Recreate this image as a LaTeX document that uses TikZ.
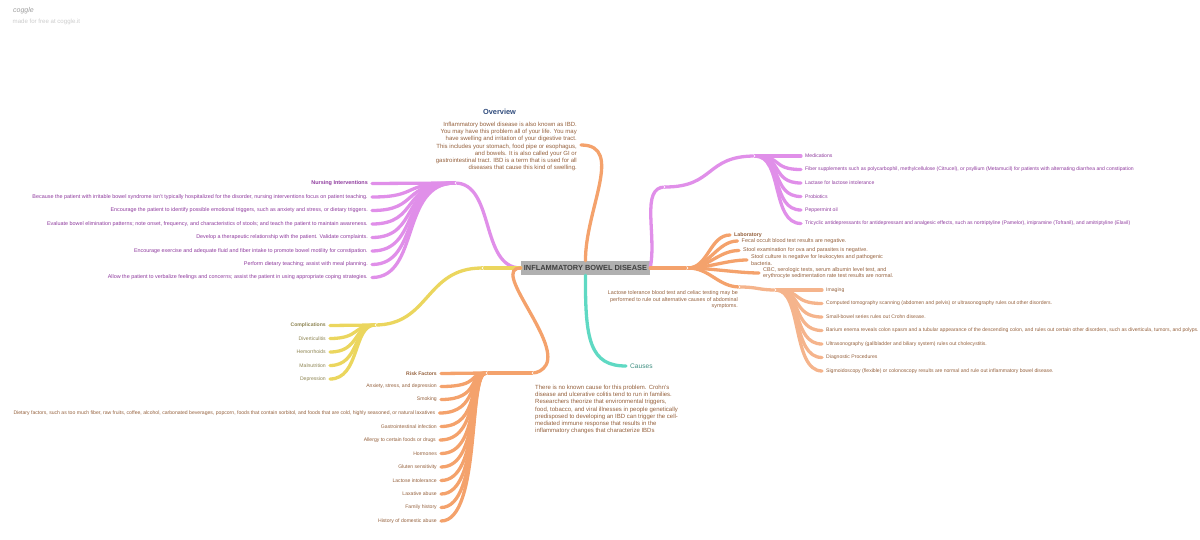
\documentclass[tikz,border=0pt]{standalone}
\usepackage{fontspec}
\setmainfont{Liberation Sans}
\definecolor{purpline}{HTML}{E08FE9}
\definecolor{purptext}{HTML}{8E3A9D}
\definecolor{oranline}{HTML}{F4A26C}
\definecolor{oranpale}{HTML}{F5B48C}
\definecolor{brown}{HTML}{94603C}
\definecolor{yellline}{HTML}{EBD65E}
\definecolor{yelltext}{HTML}{8C8350}
\definecolor{tealline}{HTML}{5FD9C3}
\definecolor{overblue}{HTML}{2F4B7C}
\definecolor{causetxt}{HTML}{3E8E80}
\tikzset{
  link/.style={line width=3.3pt,line cap=round},
  txt/.style={font=\fontsize{5.1}{6.5}\selectfont,inner xsep=4pt,inner ysep=0pt},
  lleaf/.style={txt,anchor=east,align=right},
  rleaf/.style={txt,anchor=west,align=left},
  para/.style={font=\fontsize{6}{7.2}\selectfont,inner sep=0pt,text=brown},
  chev/.style={white,line width=.5pt},
}
\begin{document}
\begin{tikzpicture}[x=1pt,y=-1pt]
\useasboundingbox (0,0) rectangle (1200,539);
% logo
\node[anchor=west,inner sep=0pt,text=black!38,font=\fontsize{7}{8}\selectfont\itshape] (logo) at (13,11) {coggle};
\node[anchor=west,inner sep=0pt,text=black!20,font=\fontsize{6.1}{7}\selectfont] (made) at (12.5,22) {made for free at coggle.it};
% root
\node[fill=black!31,minimum width=129pt,minimum height=14pt,inner sep=0pt,text=black!75,font=\fontsize{7.4}{9}\selectfont\bfseries] (root) at (585.5,268) {INFLAMMATORY BOWEL DISEASE};
% overview
\node[inner sep=0pt,text=overblue,font=\fontsize{7.4}{10}\selectfont\bfseries] (over) at (499.5,112) {Overview};
\node[para,anchor=north east,align=right] (overtext) at (577,122) {Inflammatory bowel disease is also known as IBD.\\You may have this problem all of your life. You may\\have swelling and irritation of your digestive tract.\\This includes your stomach, food pipe or esophagus,\\and bowels. It is also called your GI or\\gastrointestinal tract. IBD is a term that is used for all\\diseases that cause this kind of swelling.};
\coordinate (overend) at (581,145);
\draw[link,oranline] (root.north) .. controls (585,210) and (625,145) .. (overend);
% nursing
\coordinate (nj) at (455,183);
\node[lleaf,text=purptext,font=\fontsize{5.45}{6.5}\selectfont\bfseries] (n0) at (372,183.5) {Nursing Interventions};
\node[lleaf,text=purptext,font=\fontsize{5.42}{6.5}\selectfont] (n1) at (372,197) {Because the patient with irritable bowel syndrome isn't typically hospitalized for the disorder, nursing interventions focus on patient teaching.};
\node[lleaf,text=purptext,font=\fontsize{5.42}{6.5}\selectfont] (n2) at (372,210.5) {Encourage the patient to identify possible emotional triggers, such as anxiety and stress, or dietary triggers.};
\node[lleaf,text=purptext,font=\fontsize{5.42}{6.5}\selectfont] (n3) at (372,224) {Evaluate bowel elimination patterns; note onset, frequency, and characteristics of stools; and teach the patient to maintain awareness.};
\node[lleaf,text=purptext,font=\fontsize{5.42}{6.5}\selectfont] (n4) at (372,237.5) {Develop a therapeutic relationship with the patient. Validate complaints.};
\node[lleaf,text=purptext,font=\fontsize{5.42}{6.5}\selectfont] (n5) at (372,251) {Encourage exercise and adequate fluid and fiber intake to promote bowel motility for constipation.};
\node[lleaf,text=purptext,font=\fontsize{5.42}{6.5}\selectfont] (n6) at (372,264.5) {Perform dietary teaching; assist with meal planning.};
\node[lleaf,text=purptext,font=\fontsize{5.42}{6.5}\selectfont] (n7) at (372,277.5) {Allow the patient to verbalize feelings and concerns; assist the patient in using appropriate coping strategies.};
\draw[link,purpline] (root.west) .. controls (480,268) and (495,183) .. (nj);
\draw[link,purpline] (nj) -- (n0.east);
\draw[link,purpline] (nj) .. controls +(-55,0) and +(48,0) .. (n1.east);
\draw[link,purpline] (nj) .. controls +(-55,0) and +(48,0) .. (n2.east);
\draw[link,purpline] (nj) .. controls +(-55,0) and +(48,0) .. (n3.east);
\draw[link,purpline] (nj) .. controls +(-55,0) and +(48,0) .. (n4.east);
\draw[link,purpline] (nj) .. controls +(-55,0) and +(48,0) .. (n5.east);
\draw[link,purpline] (nj) .. controls +(-55,0) and +(48,0) .. (n6.east);
\draw[link,purpline] (nj) .. controls +(-55,0) and +(48,0) .. (n7.east);
% complications
\coordinate (cj0) at (482,268);
\coordinate (cj) at (375,325);
\node[lleaf,text=yelltext,font=\fontsize{5.1}{6.5}\selectfont\bfseries] (c0) at (330,325.5) {Complications};
\node[lleaf,text=yelltext] (c1) at (330,338.5) {Diverticulitis};
\node[lleaf,text=yelltext] (c2) at (330,352) {Hemorrhoids};
\node[lleaf,text=yelltext] (c3) at (330,365.5) {Malnutrition};
\node[lleaf,text=yelltext] (c4) at (330,379) {Depression};
\draw[link,yellline] (root.west) -- (cj0);
\draw[link,yellline] (cj0) .. controls (425,268) and (430,325) .. (cj);
\draw[link,yellline] (cj) -- (c0.east);
\draw[link,yellline] (cj) .. controls +(-22,0) and +(30,0) .. (c1.east);
\draw[link,yellline] (cj) .. controls +(-22,0) and +(30,0) .. (c2.east);
\draw[link,yellline] (cj) .. controls +(-22,0) and +(30,0) .. (c3.east);
\draw[link,yellline] (cj) .. controls +(-22,0) and +(30,0) .. (c4.east);
% risk factors
\coordinate (rj0) at (532,373);
\coordinate (rj) at (486,373);
\node[lleaf,text=brown,font=\fontsize{5.1}{6.5}\selectfont\bfseries] (r0) at (441,373.5) {Risk Factors};
\node[lleaf,text=brown] (r1) at (441,386.5) {Anxiety, stress, and depression};
\node[lleaf,text=brown] (r2) at (441,399.5) {Smoking};
\node[lleaf,text=brown] (r3) at (439.5,413) {Dietary factors, such as too much fiber, raw fruits, coffee, alcohol, carbonated beverages, popcorn, foods that contain sorbitol, and foods that are cold, highly seasoned, or natural laxatives};
\node[lleaf,text=brown] (r4) at (441,426.5) {Gastrointestinal infection};
\node[lleaf,text=brown] (r5) at (440,440) {Allergy to certain foods or drugs};
\node[lleaf,text=brown] (r6) at (441,453.5) {Hormones};
\node[lleaf,text=brown] (r7) at (441,467) {Gluten sensitivity};
\node[lleaf,text=brown] (r8) at (441,480.5) {Lactose intolerance};
\node[lleaf,text=brown] (r9) at (441,494) {Laxative abuse};
\node[lleaf,text=brown] (r10) at (441,507.5) {Family history};
\node[lleaf,text=brown] (r11) at (441,521) {History of domestic abuse};
\draw[link,oranline] (root.west) .. controls (490,268) and (560,340) .. (546,365) .. controls (543,370) and (538,373) .. (rj0);
\draw[link,oranline] (rj0) -- (rj);
\draw[link,oranline] (rj) -- (r0.east);
\draw[link,oranline] (rj) .. controls +(-18,0) and +(40,0) .. (r1.east);
\draw[link,oranline] (rj) .. controls +(-18,0) and +(40,0) .. (r2.east);
\draw[link,oranline] (rj) .. controls +(-18,0) and +(40,0) .. (r3.east);
\draw[link,oranline] (rj) .. controls +(-18,0) and +(40,0) .. (r4.east);
\draw[link,oranline] (rj) .. controls +(-18,0) and +(40,0) .. (r5.east);
\draw[link,oranline] (rj) .. controls +(-18,0) and +(40,0) .. (r6.east);
\draw[link,oranline] (rj) .. controls +(-18,0) and +(40,0) .. (r7.east);
\draw[link,oranline] (rj) .. controls +(-18,0) and +(40,0) .. (r8.east);
\draw[link,oranline] (rj) .. controls +(-18,0) and +(40,0) .. (r9.east);
\draw[link,oranline] (rj) .. controls +(-18,0) and +(40,0) .. (r10.east);
\draw[link,oranline] (rj) .. controls +(-18,0) and +(40,0) .. (r11.east);
\node[para,anchor=north west,align=left] (riskcause) at (535,385) {There is no known cause for this problem. Crohn's\\disease and ulcerative colitis tend to run in families.\\Researchers theorize that environmental triggers,\\food, tobacco, and viral illnesses in people genetically\\predisposed to developing an IBD can trigger the cell-\\mediated immune response that results in the\\inflammatory changes that characterize IBDs};
% causes
\node[rleaf,text=causetxt,font=\fontsize{6.6}{9}\selectfont] (causes) at (626,366) {Causes};
\draw[link,tealline] (root.south) .. controls (585,340) and (590,366) .. (causes.west);
% medications
\coordinate (mj0) at (665,187);
\coordinate (mj) at (755,156);
\node[rleaf,text=purptext] (m0) at (801,156) {Medications};
\node[rleaf,text=purptext] (m1) at (801,169.5) {Fiber supplements such as polycarbophil, methylcellulose (Citrucel), or psyllium (Metamucil) for patients with alternating diarrhea and constipation};
\node[rleaf,text=purptext] (m2) at (801,183) {Lactase for lactose intolerance};
\node[rleaf,text=purptext] (m3) at (801,196.5) {Probiotics};
\node[rleaf,text=purptext] (m4) at (801,210) {Peppermint oil};
\node[rleaf,text=purptext] (m5) at (801,223.5) {Tricyclic antidepressants for antidepressant and analgesic effects, such as nortriptyline (Pamelor), imipramine (Tofranil), and amitriptyline (Elavil)};
\draw[link,purpline] (root.east) .. controls (657,235) and (640,187) .. (mj0);
\draw[link,purpline] (mj0) .. controls (715,187) and (705,156) .. (mj);
\draw[link,purpline] (mj) -- (m0.west);
\draw[link,purpline] (mj) .. controls +(28,0) and +(-30,0) .. (m1.west);
\draw[link,purpline] (mj) .. controls +(28,0) and +(-30,0) .. (m2.west);
\draw[link,purpline] (mj) .. controls +(28,0) and +(-30,0) .. (m3.west);
\draw[link,purpline] (mj) .. controls +(28,0) and +(-30,0) .. (m4.west);
\draw[link,purpline] (mj) .. controls +(28,0) and +(-30,0) .. (m5.west);
% laboratory
\coordinate (lj) at (688,268);
\node[rleaf,text=brown,font=\fontsize{5.3}{6.5}\selectfont\bfseries] (l0) at (730,235) {Laboratory};
\node[rleaf,text=brown,font=\fontsize{5.45}{6.3}\selectfont] (l1) at (737.5,241) {Fecal occult blood test results are negative.};
\node[rleaf,text=brown,font=\fontsize{5.45}{6.3}\selectfont] (l2) at (739,250.5) {Stool examination for ova and parasites is negative.};
\node[rleaf,text=brown,font=\fontsize{5.45}{6.3}\selectfont] (l3) at (747,260) {Stool culture is negative for leukocytes and pathogenic\\bacteria.};
\node[rleaf,text=brown,font=\fontsize{5.45}{6.3}\selectfont] (l4) at (759,273) {CBC, serologic tests, serum albumin level test, and\\erythrocyte sedimentation rate test results are normal.};
\draw[link,oranline] (root.east) -- (lj);
\draw[link,oranline] (lj) .. controls +(20,0) and +(-20,0) .. (l0.west);
\draw[link,oranline] (lj) .. controls +(20,0) and +(-20,0) .. (l1.west);
\draw[link,oranline] (lj) .. controls +(20,0) and +(-20,0) .. (l2.west);
\draw[link,oranline] (lj) .. controls +(20,0) and +(-20,0) .. (l3.west);
\draw[link,oranline] (lj) .. controls +(20,0) and +(-20,0) .. (l4.west);
% imaging
\coordinate (ij0) at (740,287);
\coordinate (ij) at (776,290);
\node[rleaf,text=brown] (i0) at (822,290) {Imaging};
\node[rleaf,text=brown] (i1) at (822,303.5) {Computed tomography scanning (abdomen and pelvis) or ultrasonography rules out other disorders.};
\node[rleaf,text=brown] (i2) at (822,317) {Small-bowel series rules out Crohn disease.};
\node[rleaf,text=brown] (i3) at (822,330.5) {Barium enema reveals colon spasm and a tubular appearance of the descending colon, and rules out certain other disorders, such as diverticula, tumors, and polyps.};
\node[rleaf,text=brown] (i4) at (822,344) {Ultrasonography (gallbladder and biliary system) rules out cholecystitis.};
\node[rleaf,text=brown] (i5) at (822,357.5) {Diagnostic Procedures};
\node[rleaf,text=brown] (i6) at (822,371) {Sigmoidoscopy (flexible) or colonoscopy results are normal and rule out inflammatory bowel disease.};
\draw[link,oranline] (lj) .. controls +(22,0) and +(-22,0) .. (ij0);
\draw[link,oranpale] (ij0) .. controls +(18,0) and +(-18,0) .. (ij);
\draw[link,oranpale] (ij) -- (i0.west);
\draw[link,oranpale] (ij) .. controls +(26,0) and +(-30,0) .. (i1.west);
\draw[link,oranpale] (ij) .. controls +(26,0) and +(-30,0) .. (i2.west);
\draw[link,oranpale] (ij) .. controls +(26,0) and +(-30,0) .. (i3.west);
\draw[link,oranpale] (ij) .. controls +(26,0) and +(-30,0) .. (i4.west);
\draw[link,oranpale] (ij) .. controls +(26,0) and +(-30,0) .. (i5.west);
\draw[link,oranpale] (ij) .. controls +(26,0) and +(-30,0) .. (i6.west);
\node[para,anchor=north east,align=right,font=\fontsize{5.4}{6.5}\selectfont] (lactose) at (738,290.5) {Lactose tolerance blood test and celiac testing may be\\performed to rule out alternative causes of abdominal\\symptoms.};
% white marks at the joins
\draw[chev] (456.5,181.5) -- (nj) -- (456.5,184.5);
\draw[chev] (483.5,266.5) -- (cj0) -- (483.5,269.5);
\draw[chev] (376.5,323.5) -- (cj) -- (376.5,326.5);
\draw[chev] (533.5,371.5) -- (rj0) -- (533.5,374.5);
\draw[chev] (487.5,371.5) -- (rj) -- (487.5,374.5);
\draw[chev] (663.5,185.5) -- (mj0) -- (663.5,188.5);
\draw[chev] (753.5,154.5) -- (mj) -- (753.5,157.5);
\draw[chev] (686.5,266.5) -- (lj) -- (686.5,269.5);
\draw[chev] (738.5,285.5) -- (ij0) -- (738.5,288.5);
\draw[chev] (774.5,288.5) -- (ij) -- (774.5,291.5);
\end{tikzpicture}
\end{document}
